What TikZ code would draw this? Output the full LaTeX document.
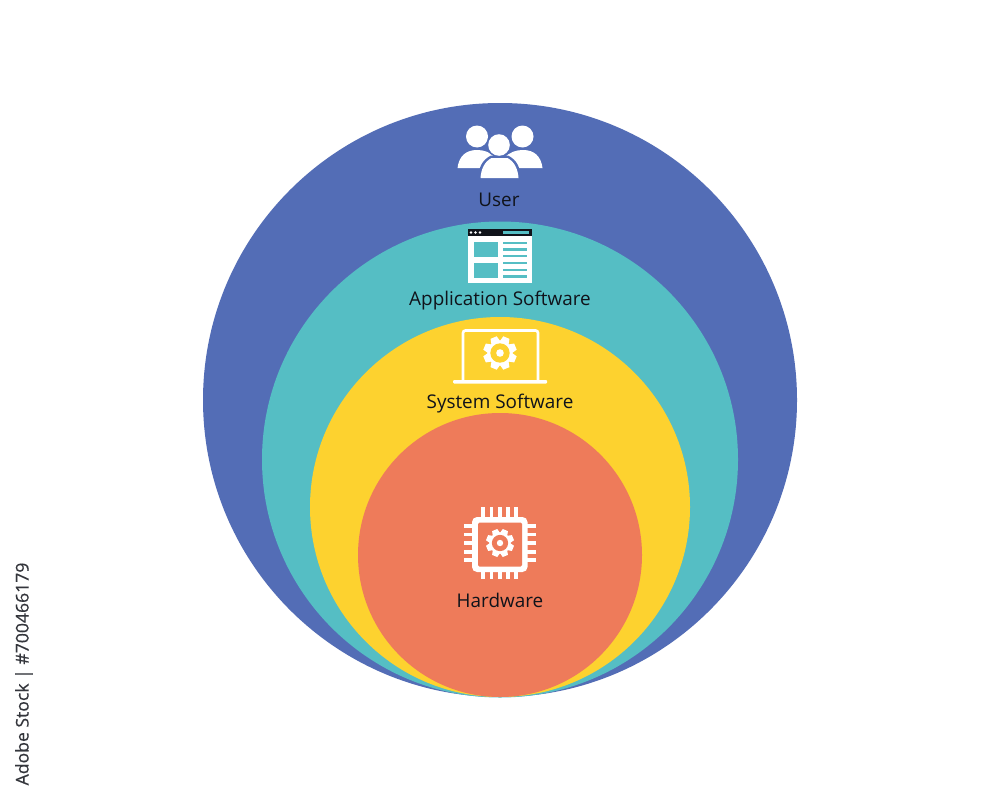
\documentclass[tikz,border=0pt]{standalone}
\usepackage{fontspec}
\setmainfont{Open Sans}
\newfontfamily\stockfont[FakeBold=0.5]{Open Sans}
\definecolor{cblue}{HTML}{536DB6}
\definecolor{cteal}{HTML}{55BEC4}
\definecolor{cyellow}{HTML}{FDD22F}
\definecolor{cred}{HTML}{EE7B5A}
\definecolor{cink}{HTML}{10131A}
\tikzset{
  label text/.style={text=cink,font=\fontsize{18.9}{22}\selectfont,inner sep=0pt,anchor=base},
  pics/gear/.style n args={3}{code={
    \fill[white] (0,0) circle[radius=#1*0.76];
    \foreach \a in {0,45,...,315}
      \fill[white,rotate=\a+22.5] (-#1*0.29,#1*0.6) -- (-#1*0.2,#1) -- (#1*0.2,#1) -- (#1*0.29,#1*0.6) -- cycle;
    \fill[#3] (0,0) circle[radius=#1*0.58];
    \fill[white] (0,0) circle[radius=#2];
  }}
}
\begin{document}
\begin{tikzpicture}[x=1pt,y=-1pt]
\useasboundingbox (0,0) rectangle (1000,800);
\fill[white] (0,0) rectangle (1000,800);
% nested circles
\fill[cblue]   (500,400)   circle[radius=297];
\fill[cteal]   (500,459.5) circle[radius=238];
\fill[cyellow] (500,507)   circle[radius=190];
\fill[cred]    (500,555)   circle[radius=142];
% user icon
\fill[white] (477,136.5) circle[radius=11];
\fill[white] (522.5,136.5) circle[radius=11];
\fill[white] (457.5,168) .. controls (459,156) and (466,150) .. (477,150)
  .. controls (484,150) and (490,152) .. (496,158) -- (496,168) -- cycle;
\fill[white] (542.5,168) .. controls (541,156) and (534,150) .. (523,150)
  .. controls (516,150) and (510,152) .. (504,158) -- (504,168) -- cycle;
\fill[cblue] (478,181) .. controls (478,168) and (482,160) .. (491,155.5)
  -- (508,155.5) .. controls (517,160) and (521,168) .. (521,181) -- cycle;
\fill[cblue] (499,145) circle[radius=12.5];
\fill[white] (499,145) circle[radius=10.8];
\fill[white] (480.5,178) .. controls (481,170) and (484,162) .. (491.5,158)
  -- (507.5,158) .. controls (515,162) and (518,170) .. (518.5,178) -- cycle;
% window icon
\fill[cink] (468,229) rectangle (532,236);
\fill[white] (468,236) rectangle (532,283);
\foreach \x in {471,475.5,480} \fill[white] (\x,232.5) circle[radius=1.3];
\fill[cteal] (503,231.3) rectangle (529,233.7);
\fill[cteal] (473.5,242) rectangle (498,257);
\fill[cteal] (473.5,263) rectangle (498,278);
\foreach \y in {243,249.5,256,263,270,276.5}
  \fill[cteal] (502.5,\y-1.3) rectangle (526.5,\y+1.3);
% laptop icon
\draw[white,line width=2.7pt,rounded corners=2.5pt] (463,380.5) -- (463,330.5) -- (538,330.5) -- (538,380.5);
\fill[white,rounded corners=1pt] (453,380) rectangle (547,383.5);
\pic at (500,353) {gear={16.7}{3.8}{cyellow}};
% chip icon
\fill[white,rounded corners=5pt] (472,517) rectangle (527.5,572);
\fill[cred,rounded corners=1.5pt] (478,522.5) rectangle (522,566.5);
\foreach \x in {483,491.5,500,508,516}
  \fill[white] (\x-1.7,507) rectangle (\x+1.7,518);
\foreach \x in {483,491.5,500,508,516}
  \fill[white] (\x-1.7,571) rectangle (\x+1.7,579);
\foreach \y in {526,534.5,543,552,560}
  \fill[white] (464,\y-1.7) rectangle (473,\y+1.7);
\foreach \y in {526,534.5,543,552,560}
  \fill[white] (527,\y-1.7) rectangle (536,\y+1.7);
\pic at (500,543) {gear={14}{3.2}{cred}};
% labels
\node[label text] (user) at (499,206.5) {User};
\node[label text] (app) at (500,305.5) {Application Software};
\node[label text] (sys) at (500,408.5) {System Software};
\node[label text] (hw) at (500,607.5) {Hardware};
\node[text=cink!85!white,font=\stockfont\fontsize{17.6}{22}\selectfont,inner sep=0pt,rotate=90,anchor=center] (stock) at (24,674) {Adobe Stock | \#700466179};
\end{tikzpicture}
\end{document}
